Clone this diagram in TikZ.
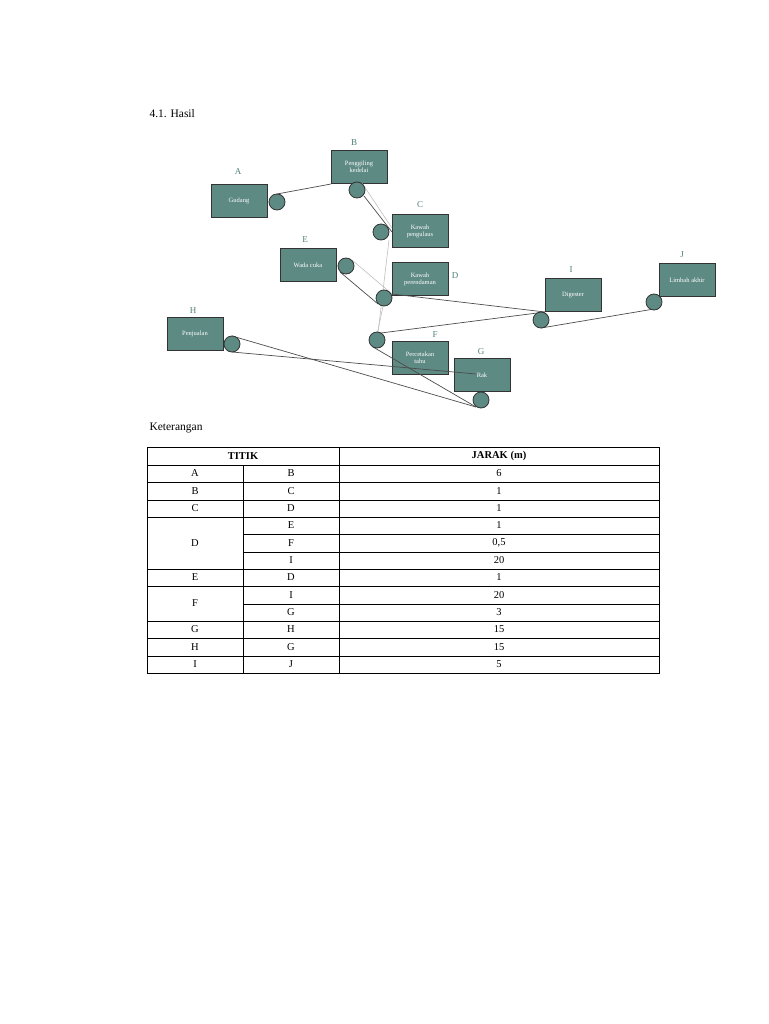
\documentclass[tikz,border=0pt]{standalone}
\usepackage{fontspec}
\setmainfont{Liberation Serif}
\begin{document}
\begin{tikzpicture}[x=1pt,y=-1pt,
  box/.style={draw=black!80,fill=tboxc,text=white,font=\fontsize{6.5}{7}\selectfont,align=center,minimum width=56pt,minimum height=33pt,inner sep=1pt,line width=0.8pt},
  dot/.style={circle,draw=black!80,fill=tboxc,minimum size=16pt,inner sep=0pt,line width=0.8pt},
  lab/.style={text=tlab,font=\fontsize{9}{9}\selectfont},
  dk/.style={draw=black!70,line width=0.7pt},
  lt/.style={draw=black!25,line width=0.6pt},
  cell/.style={font=\fontsize{10.5}{11}\selectfont}]
\definecolor{tboxc}{HTML}{5E8A84}
\definecolor{tlab}{HTML}{4E7E78}
\useasboundingbox (0,0) rectangle (768,1024);
\node[anchor=west,font=\fontsize{11.5}{12}\selectfont] (ttl) at (146,114) {4.1. Hasil};
% boxes
\node[box] (A) at (239,201) {Gudang};
\node[box] (B) at (359,167) {Penggiling\\kedelai};
\node[box] (C) at (420,231) {Kawah\\pengulaus};
\node[box] (E) at (308,265) {Wada cuka};
\node[box] (D) at (420,279) {Kawah\\perendaman};
\node[box] (I) at (573,295) {Digester};
\node[box] (J) at (687,280) {Limbah akhir};
\node[box] (H) at (195,334) {Penjualan};
\node[box] (F) at (420,358) {Percetakan\\tahu};
\node[box] (G) at (482,375) {Rak};
% labels
\node[lab] (la) at (238,172) {A};
\node[lab] (lb) at (354,143) {B};
\node[lab] (lc) at (420,205) {C};
\node[lab] (le) at (305,240) {E};
\node[lab] (ld) at (455,276) {D};
\node[lab] (li) at (571,270) {I};
\node[lab] (lj) at (682,255) {J};
\node[lab] (lh) at (193,311) {H};
\node[lab] (lf) at (435,335) {F};
\node[lab] (lg) at (481,352) {G};
% connectors
\coordinate (ab) at (331,184);
\draw[dk] (277,194) -- (ab);
\coordinate (b2) at (364,196);
\draw[dk] (b2) -- (392,232);
\draw[lt] (362,183) -- (392,228);
\draw[lt] (389,240) -- (378,333);
\draw[dk] (340,272) -- (378,304);
\draw[lt] (352,260) -- (392,294);
\draw[dk] (392,294) -- (545,312);
\draw[dk] (381,333) -- (545,312);
\draw[dk] (541,328) -- (654,309);
\draw[dk] (373,347) -- (476,407);
\draw[dk] (232,336) -- (476,407);
\draw[dk] (232,352) -- (476,374);
\draw[lt] (377,335) -- (386,292);
% dots
\node[dot] (Ac) at (277,202) {};
\node[dot] (Bc) at (357,190) {};
\node[dot] (Cc) at (381,232) {};
\node[dot] (Ec) at (346,266) {};
\node[dot] (Dc) at (384,298) {};
\node[dot] (Ic) at (541,320) {};
\node[dot] (Jc) at (654,302) {};
\node[dot] (Hc) at (232,344) {};
\node[dot] (Fc) at (377,340) {};
\node[dot] (Gc) at (481,400) {};
% table
\node[anchor=west,font=\fontsize{11.5}{12}\selectfont] (ket) at (146,428) {Keterangan};
\draw[line width=0.6pt] (147,447) rectangle (659,673);
\foreach \y in {465,482,500,517,569,586,621,638,656} \draw[line width=0.6pt] (147,\y) -- (659,\y);
\foreach \y in {534,552,604} \draw[line width=0.6pt] (243,\y) -- (659,\y);
\draw[line width=0.6pt] (339,447) -- (339,673);
\draw[line width=0.6pt] (243,465) -- (243,673);
\node[cell,font=\bfseries\fontsize{10.5}{11}\selectfont] (h1) at (243,456) {TITIK};
\node[cell,font=\bfseries\fontsize{10.5}{11}\selectfont] (h2) at (499,456) {JARAK (m)};
\foreach \a/\b/\c/\y in {A/B/6/473.5,B/C/1/491,C/D/1/508.5,{}/E/1/525.5,{}/F/{0,5}/543,{}/I/20/560.5,E/D/1/577.5,{}/I/20/595,{}/G/3/612.5,G/H/15/629.5,H/G/15/647,I/J/5/664.5}{
  \node[cell] at (195,\y) {\a};
  \node[cell] at (291,\y) {\b};
  \node[cell] at (499,\y) {\c};
}
\node[cell] (dd) at (195,543) {D};
\node[cell] (ff) at (195,603.5) {F};
\end{tikzpicture}
\end{document}
